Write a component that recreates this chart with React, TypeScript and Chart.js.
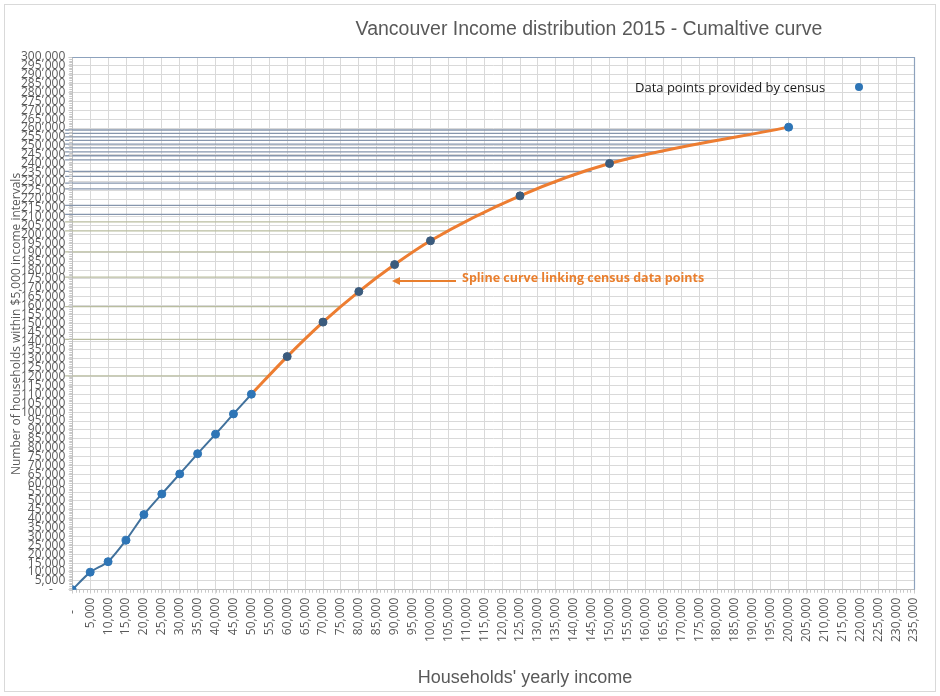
import React, { useEffect, useRef } from 'react';
import { Chart, registerables } from 'chart.js';

Chart.register(...registerables);

// census points: income bracket upper bound -> cumulative households
const censusIncome = [0, 5000, 10000, 15000, 20000, 25000, 30000, 35000, 40000, 45000, 50000, 60000, 70000, 80000, 90000, 100000, 125000, 150000, 200000];
const censusHouseholds = [0, 9900, 15800, 27900, 42300, 53900, 65200, 76600, 87600, 99000, 110100, 131300, 150700, 167900, 183100, 196500, 221800, 240000, 260500];

const splineIncome = [55000, 65000, 75000, 85000, 95000, 105000, 110000, 115000, 120000, 130000, 135000, 140000, 145000, 155000, 160000, 165000, 170000, 175000, 180000, 185000, 190000, 195000];
const splineHouseholds = [120400, 141000, 159400, 176000, 190300, 202100, 207100, 211400, 216500, 225700, 229000, 232800, 235600, 242100, 244400, 246600, 248800, 250900, 253000, 255000, 257000, 258900];

const splineFrom = 50000;
const greenUpTo = 110000;

const titleText = 'Vancouver Income distribution 2015 - Cumaltive curve';
const xTitle = "Households' yearly income";
const yTitle = 'Number of households within $5,000 income intervals';
const legendText = 'Data points provided by census';
const noteText = 'Spline curve linking census data points';

const fmt = (v: number) => (v === 0 ? '-    ' : v.toLocaleString('en-US'));

const decorations = {
    id: 'decorations',
    beforeDraw(chart: any) {
        const { ctx, width, height } = chart;
        ctx.save();
        ctx.fillStyle = '#ffffff';
        ctx.fillRect(0, 0, width, height);
        ctx.strokeStyle = '#d9d9d9';
        ctx.lineWidth = 1;
        ctx.strokeRect(4.5, 4.5, width - 9, height - 9);
        ctx.restore();
    },
    afterDraw(chart: any) {
        const { ctx, chartArea } = chart;
        const { left, right, top, bottom } = chartArea;
        const xs = chart.scales.x;
        const ys = chart.scales.y;
        ctx.save();

        // minor tick marks
        ctx.strokeStyle = '#c8c8c8';
        ctx.lineWidth = 1;
        ctx.beginPath();
        for (let v = 0; v <= xs.max; v += 1000) {
            const px = Math.round(xs.getPixelForValue(v)) + 0.5;
            ctx.moveTo(px, bottom);
            ctx.lineTo(px, bottom + 3);
        }
        for (let v = 0; v <= ys.max; v += 1000) {
            const py = Math.round(ys.getPixelForValue(v)) + 0.5;
            ctx.moveTo(left - 3, py);
            ctx.lineTo(left, py);
        }
        ctx.stroke();

        // plot frame top / right
        ctx.strokeStyle = '#8da2bd';
        ctx.lineWidth = 1.2;
        ctx.beginPath();
        ctx.moveTo(left, top + 0.5);
        ctx.lineTo(right + 0.5, top + 0.5);
        ctx.lineTo(right + 0.5, bottom);
        ctx.stroke();

        // title
        ctx.fillStyle = '#595959';
        ctx.textAlign = 'center';
        ctx.textBaseline = 'middle';
        ctx.font = "19.5px 'Liberation Sans', Arial, sans-serif";
        ctx.fillText(titleText, 589, 30);

        // x title
        ctx.font = "18px 'Liberation Sans', Arial, sans-serif";
        ctx.fillText(xTitle, 525, 678);

        // y title
        ctx.save();
        ctx.translate(17, 324);
        ctx.rotate(-Math.PI / 2);
        ctx.font = "12px 'Open Sans', sans-serif";
        ctx.fillText(yTitle, 0, 0);
        ctx.restore();

        // legend
        ctx.fillStyle = '#1a1a1a';
        ctx.textAlign = 'left';
        ctx.font = "13px 'Open Sans', sans-serif";
        ctx.fillText(legendText, 635, 88);
        ctx.fillStyle = '#2e75b6';
        ctx.beginPath();
        ctx.arc(859, 87, 4, 0, Math.PI * 2);
        ctx.fill();

        // annotation with arrow
        ctx.fillStyle = '#e97f2e';
        ctx.font = "bold 12.5px 'Open Sans', sans-serif";
        ctx.fillText(noteText, 462, 278);
        ctx.strokeStyle = '#e97f2e';
        ctx.lineWidth = 2;
        ctx.beginPath();
        ctx.moveTo(456, 281);
        ctx.lineTo(397, 281);
        ctx.stroke();
        ctx.beginPath();
        ctx.moveTo(392, 281);
        ctx.lineTo(400, 277);
        ctx.lineTo(400, 285);
        ctx.closePath();
        ctx.fill();

        ctx.restore();
    },
};

const IncomeCurveChart: React.FC = () => {
    const chartRef = useRef<HTMLCanvasElement>(null);
    const chartInstance = useRef<Chart | null>(null);

    useEffect(() => {
        document.body.style.margin = '0';
        if (!chartRef.current) return;
        if (chartInstance.current) chartInstance.current.destroy();
        const ctx = chartRef.current.getContext('2d');
        if (!ctx) return;

        const census = censusIncome.map((x, i) => ({ x, y: censusHouseholds[i] }));
        const lastIdx = census.length - 1;
        const markerColors = census.map((p, i) =>
            p.x > splineFrom && i < lastIdx ? '#3b5b7d' : '#2e75b6'
        );

        const guideSets = splineIncome.map((x, i) => ({
            type: 'line' as const,
            data: [
                { x: -2000, y: splineHouseholds[i] },
                { x, y: splineHouseholds[i] },
            ],
            borderColor: x <= greenUpTo ? '#b9bd9f' : '#8696ad',
            borderWidth: 1.3,
            pointRadius: 0,
            clip: false as any,
            order: 3,
        }));

        chartInstance.current = new Chart(ctx, {
            type: 'line',
            data: {
                datasets: [
                    {
                        data: census,
                        showLine: false,
                        pointRadius: 4,
                        pointBackgroundColor: markerColors,
                        pointBorderColor: markerColors,
                        pointBorderWidth: 1,
                        order: 0,
                    },
                    {
                        data: census.filter((p) => p.x >= splineFrom),
                        borderColor: '#ed7d31',
                        borderWidth: 3,
                        pointRadius: 0,
                        cubicInterpolationMode: 'monotone',
                        order: 1,
                    },
                    {
                        data: census.filter((p) => p.x <= splineFrom),
                        borderColor: '#41719c',
                        borderWidth: 2,
                        pointRadius: 0,
                        tension: 0.2,
                        order: 2,
                    },
                    ...guideSets,
                ] as any,
            },
            options: {
                responsive: false,
                animation: false,
                events: [],
                layout: { padding: { left: 18, top: 57, right: 26, bottom: 50 } },
                scales: {
                    x: {
                        type: 'linear',
                        min: 0,
                        max: 235000,
                        grid: { color: '#d9d9d9', lineWidth: 1, tickLength: 4, drawTicks: true },
                        border: { color: '#bfbfbf' },
                        ticks: {
                            stepSize: 5000,
                            autoSkip: false,
                            maxRotation: 90,
                            minRotation: 90,
                            padding: 4,
                            color: '#595959',
                            font: { family: "'Open Sans', sans-serif", size: 12 },
                            callback: (v: any) => fmt(Number(v)),
                        },
                    },
                    y: {
                        type: 'linear',
                        min: 0,
                        max: 300000,
                        grid: { color: '#d9d9d9', lineWidth: 1, tickLength: 4, drawTicks: true },
                        border: { color: '#bfbfbf' },
                        ticks: {
                            stepSize: 5000,
                            autoSkip: false,
                            padding: 3,
                            color: '#595959',
                            font: { family: "'Open Sans', sans-serif", size: 12, lineHeight: 1 },
                            callback: (v: any) => fmt(Number(v)),
                        },
                    },
                },
                plugins: {
                    legend: { display: false },
                    tooltip: { enabled: false },
                    title: { display: false },
                },
            },
            plugins: [decorations],
        });

        return () => {
            chartInstance.current?.destroy();
            chartInstance.current = null;
        };
    }, []);

    return (
        <div style={{ width: 940, height: 696, position: 'relative' }}>
            <canvas ref={chartRef} width={940} height={696}></canvas>
        </div>
    );
};

export default function App() {
    return <IncomeCurveChart />;
}
